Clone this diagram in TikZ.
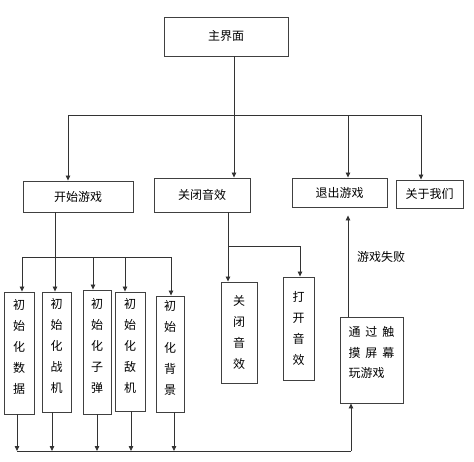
\documentclass[tikz,border=0pt]{standalone}
\usepackage{fontspec}
\setmainfont{Noto Sans CJK SC}
\usetikzlibrary{arrows.meta}

\begin{document}
\begin{tikzpicture}[x=1pt,y=-1pt,
        box/.style={draw=black!75, line width=0.9pt, inner sep=0pt, align=center,
            font=\fontsize{12}{21}\selectfont},
        line/.style={line width=0.8pt, draw=black!80},
        arr/.style={line, -{Triangle[length=5pt,width=4.5pt]}}]
        \useasboundingbox (0,0) rectangle (474,462);

        % Main menu and first level
        \node[box, minimum width=124pt, minimum height=39pt] (main) at (226,36.5) {主界面};
        \node[box, minimum width=110pt, minimum height=31pt] (start) at (78,196.5) {开始游戏};
        \node[box, minimum width=96pt, minimum height=34pt] (mute) at (202,195) {关闭音效};
        \node[box, minimum width=95pt, minimum height=29pt] (quit) at (339.5,192.5) {退出游戏};
        \node[box, minimum width=67pt, minimum height=28pt] (about) at (429.5,194) {关于我们};

        % Init boxes
        \node[box, minimum width=30pt, minimum height=122pt] (data) at (19,353) {初\\始\\化\\数\\据\\[-8pt]\mbox{}};
        \node[box, minimum width=29pt, minimum height=120pt] (plane) at (56.5,352) {初\\始\\化\\战\\机\\[-8pt]\mbox{}};
        \node[box, minimum width=28pt, minimum height=124pt] (bullet) at (97,352) {初\\始\\化\\子\\弹\\[-8pt]\mbox{}};
        \node[box, minimum width=30pt, minimum height=119pt] (enemy) at (130,351.5) {初\\始\\化\\敌\\机\\[-8pt]\mbox{}};
        \node[box, minimum width=28pt, minimum height=116pt] (bg) at (170,354) {初\\始\\化\\背\\景\\[-8pt]\mbox{}};

        % Sound boxes
        \node[box, minimum width=36pt, minimum height=101pt] (off) at (239,332.5) {关\\闭\\音\\效};
        \node[box, minimum width=31pt, minimum height=103pt] (on) at (298.5,328.5) {打\\开\\音\\效};

        % Play box
        \node[box, minimum width=63pt, minimum height=86pt, align=left,
            font=\fontsize{12}{20.5}\selectfont] (play) at (371.5,360)
            {通\hspace{5pt}过\hspace{5pt}触\\摸\hspace{5pt}屏\hspace{5pt}幕\\玩游戏\\[-4.5pt]\mbox{}};
        \node[font=\fontsize{12}{14}\selectfont] (fail) at (381,257) {游戏失败};

        % Main menu branches
        \coordinate (bus) at (234,115);
        \draw[line] (main.south -| bus) -- (bus);
        \draw[arr] (bus) -| ([xshift=-10pt]start.north);
        \draw[arr] (bus) -- (bus |- mute.north);
        \draw[arr] (bus) -| ([xshift=8.5pt]quit.north);
        \draw[arr] (bus) -| ([xshift=-8.5pt]about.north);

        % Start game branches
        \coordinate (fork) at (55,257);
        \draw[line] (start.south -| fork) -- (fork);
        \draw[arr] (fork) -| ([xshift=3pt]data.north);
        \draw[arr] (fork) -- (fork |- plane.north);
        \draw[arr] (fork) -| ([xshift=-4pt]bullet.north);
        \draw[arr] (fork) -| ([xshift=-5pt]enemy.north);
        \draw[arr] (fork) -| ([xshift=1pt]bg.north);

        % Sound branches
        \coordinate (sfork) at (228,246);
        \draw[line] (mute.south -| sfork) -- (sfork);
        \draw[arr] (sfork) -- (sfork |- off.north);
        \draw[arr] (sfork) -| ([xshift=1.5pt]on.north);

        % Init boxes join into play
        \coordinate (join) at (351,451);
        \draw[arr] ([xshift=-2pt]data.south) -- ([xshift=-2pt]data.south |- join);
        \draw[arr] ([xshift=-4.5pt]plane.south) -- ([xshift=-4.5pt]plane.south |- join);
        \draw[arr] (bullet.south) -- (bullet.south |- join);
        \draw[arr] ([xshift=1pt]enemy.south) -- ([xshift=1pt]enemy.south |- join);
        \draw[arr] ([xshift=4pt]bg.south) -- ([xshift=4pt]bg.south |- join);
        \draw[line] ([xshift=-2pt]data.south |- join) -- (join);
        \draw[arr] (join) -- (join |- play.south);

        % Game over goes back to quit
        \draw[arr] ([xshift=-23.5pt]play.north) -- ([xshift=8.5pt,yshift=-8pt]quit.south);

    \end{tikzpicture}
\end{document}
